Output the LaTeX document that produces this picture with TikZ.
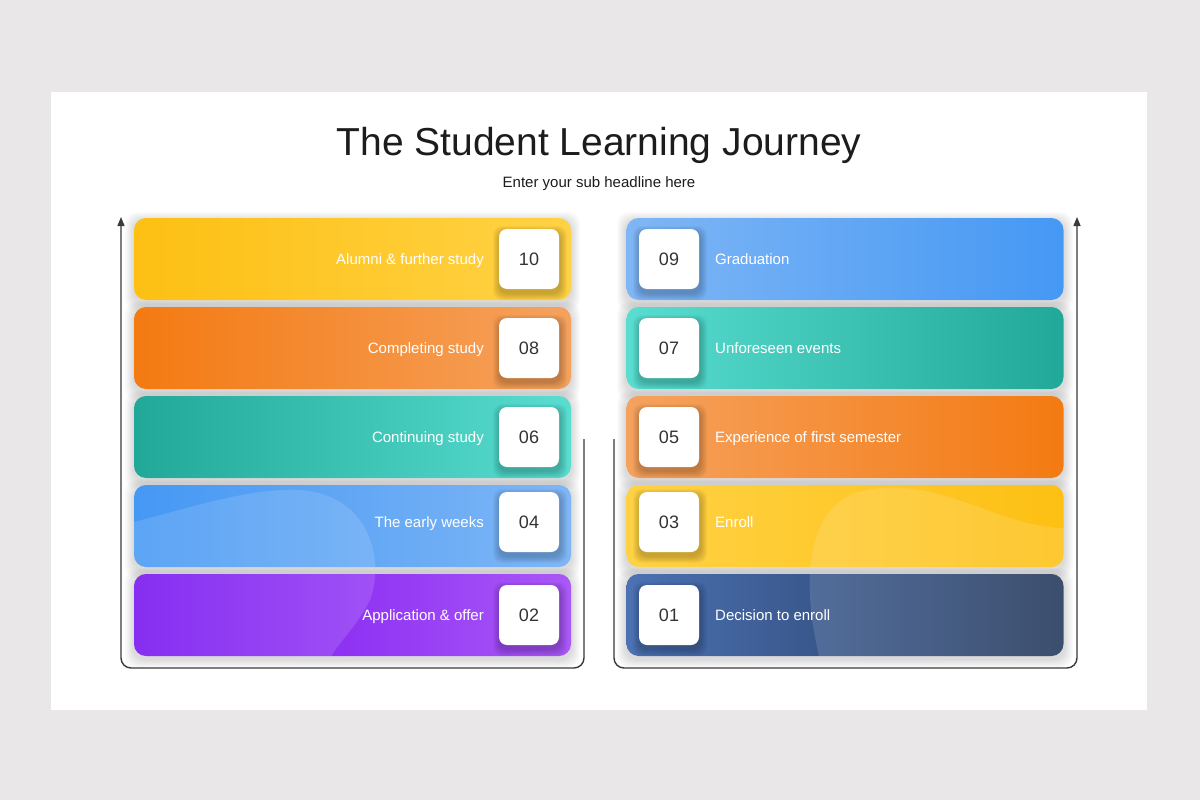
\documentclass[tikz,border=0pt]{standalone}
\usepackage{fontspec}
\setmainfont{Liberation Sans}
\usetikzlibrary{arrows.meta}

\definecolor{pagegray}{HTML}{E9E7E8}
\definecolor{inkgray}{HTML}{1C1C1C}
\definecolor{numgray}{HTML}{333333}
\definecolor{linegray}{HTML}{3A3A3A}
\definecolor{yelA}{HTML}{FDC013}\definecolor{yelB}{HTML}{FFD245}
\definecolor{orA}{HTML}{F47A12}\definecolor{orB}{HTML}{F5A25E}
\definecolor{tealA}{HTML}{22A898}\definecolor{tealB}{HTML}{58DDD0}
\definecolor{blueA}{HTML}{4598F4}\definecolor{blueB}{HTML}{7FB6F5}
\definecolor{purA}{HTML}{7510F0}\definecolor{purB}{HTML}{AA58F7}
\definecolor{navyA}{HTML}{4C72B3}\definecolor{navyB}{HTML}{1F3458}

\tikzset{
  bar/.style={rounded corners=12pt, minimum width=437pt, minimum height=82pt, inner sep=0pt},
  barshade/.style={fill=black, opacity=.016, rounded corners=12pt},
  numbox/.style={fill=white, rounded corners=8pt, minimum size=60pt, inner sep=0pt,
    text=numgray, font=\fontsize{18}{20}\selectfont},
  boxshade/.style={fill=black, opacity=.03, rounded corners=9pt},
  barlabel/.style={text=white, inner sep=0pt, font=\fontsize{15}{18}\selectfont},
  journey/.style={draw=linegray, line width=1.4pt, rounded corners=10pt,
    -{Triangle[length=9pt,width=7pt]}}
}

\begin{document}
\begin{tikzpicture}[x=1pt,y=-1pt]
  \useasboundingbox (0,0) rectangle (1200,800);
  \fill[pagegray] (0,0) rectangle (1200,800);
  \fill[white] (51,92) rectangle (1147,710);

  % heading
  \node[anchor=base, text=inkgray, font=\fontsize{39}{44}\selectfont] (title) at (599,155) {The Student Learning Journey};
  \node[anchor=base, text=inkgray, font=\fontsize{15}{17}\selectfont] (subtitle) at (599,187) {Enter your sub headline here};

  % soft halo under the bars
  \foreach \y in {259,348,437,526,615}{
    \foreach \s in {1,...,9}{
      \fill[barshade] (134-\s,\y-41-\s+3) rectangle (571+\s,\y+41+\s+3);
      \fill[barshade] (626-\s,\y-41-\s+3) rectangle (1064+\s,\y+41+\s+3);
    }
  }

  % left column
  \foreach \num/\y/\cl/\cr in {10/259/yelA/yelB, 08/348/orA/orB, 06/437/tealA/tealB,
      04/526/blueA/blueB, 02/615/purA/purB}{
    \node[bar, left color=\cl, right color=\cr] (bar\num) at (352.5,\y) {};
  }

  % right column
  \foreach \num/\y/\cl/\cr in {09/259/blueB/blueA, 07/348/tealB/tealA, 05/437/orB/orA,
      03/526/yelB/yelA, 01/615/navyA/navyB}{
    \node[bar, left color=\cl, right color=\cr] (bar\num) at (845,\y) {};
  }

  % soft blobs seen through the bars
  \begin{scope}
    \clip[rounded corners=12pt] \foreach \y in {259,348,437,526,615}{
      (134,\y-41) rectangle (571,\y+41) (626,\y-41) rectangle (1064,\y+41)};
    \fill[white, opacity=.13] (134,522) .. controls (200,505) and (250,488) .. (300,490)
      .. controls (370,495) and (385,560) .. (370,600)
      .. controls (355,630) and (335,645) .. (330,660) -- (134,660) -- cycle;
    \fill[white, opacity=.13] (820,660) .. controls (805,600) and (800,520) .. (850,495)
      .. controls (900,475) and (960,500) .. (1000,515)
      .. controls (1030,525) and (1050,528) .. (1064,528) -- (1064,660) -- cycle;
  \end{scope}

  % labels and numbers
  \foreach \num/\txt/\by in {10/Alumni \& further study/259, 08/Completing study/348,
      06/Continuing study/437, 04/The early weeks/522, 02/Application \& offer/615}{
    \foreach \s in {1,...,7}
      \fill[boxshade] (529-30-\s+1,\by-30-\s+4) rectangle (529+30+\s+1,\by+30+\s+4);
    \node[numbox] (box\num) at (529,\by) {\num};
    \node[barlabel, anchor=base east] (lab\num) at (484,\by+5) {\txt};
  }
  \foreach \num/\txt/\by in {09/Graduation/259, 07/Unforeseen events/348,
      05/Experience of first semester/437, 03/Enroll/522, 01/Decision to enroll/615}{
    \foreach \s in {1,...,7}
      \fill[boxshade] (669-30-\s+1,\by-30-\s+4) rectangle (669+30+\s+1,\by+30+\s+4);
    \node[numbox] (box\num) at (669,\by) {\num};
    \node[barlabel, anchor=base west] (lab\num) at (715,\by+5) {\txt};
  }

  % journey arrows
  \coordinate (lfrom) at (584,439);
  \coordinate (lcorner) at (121,668);
  \coordinate (lto) at (121,217);
  \coordinate (rfrom) at (614,439);
  \coordinate (rcorner) at (1077,668);
  \coordinate (rto) at (1077,217);
  \draw[journey] (lfrom) |- (lcorner) -- (lto);
  \draw[journey] (rfrom) |- (rcorner) -- (rto);
\end{tikzpicture}
\end{document}
